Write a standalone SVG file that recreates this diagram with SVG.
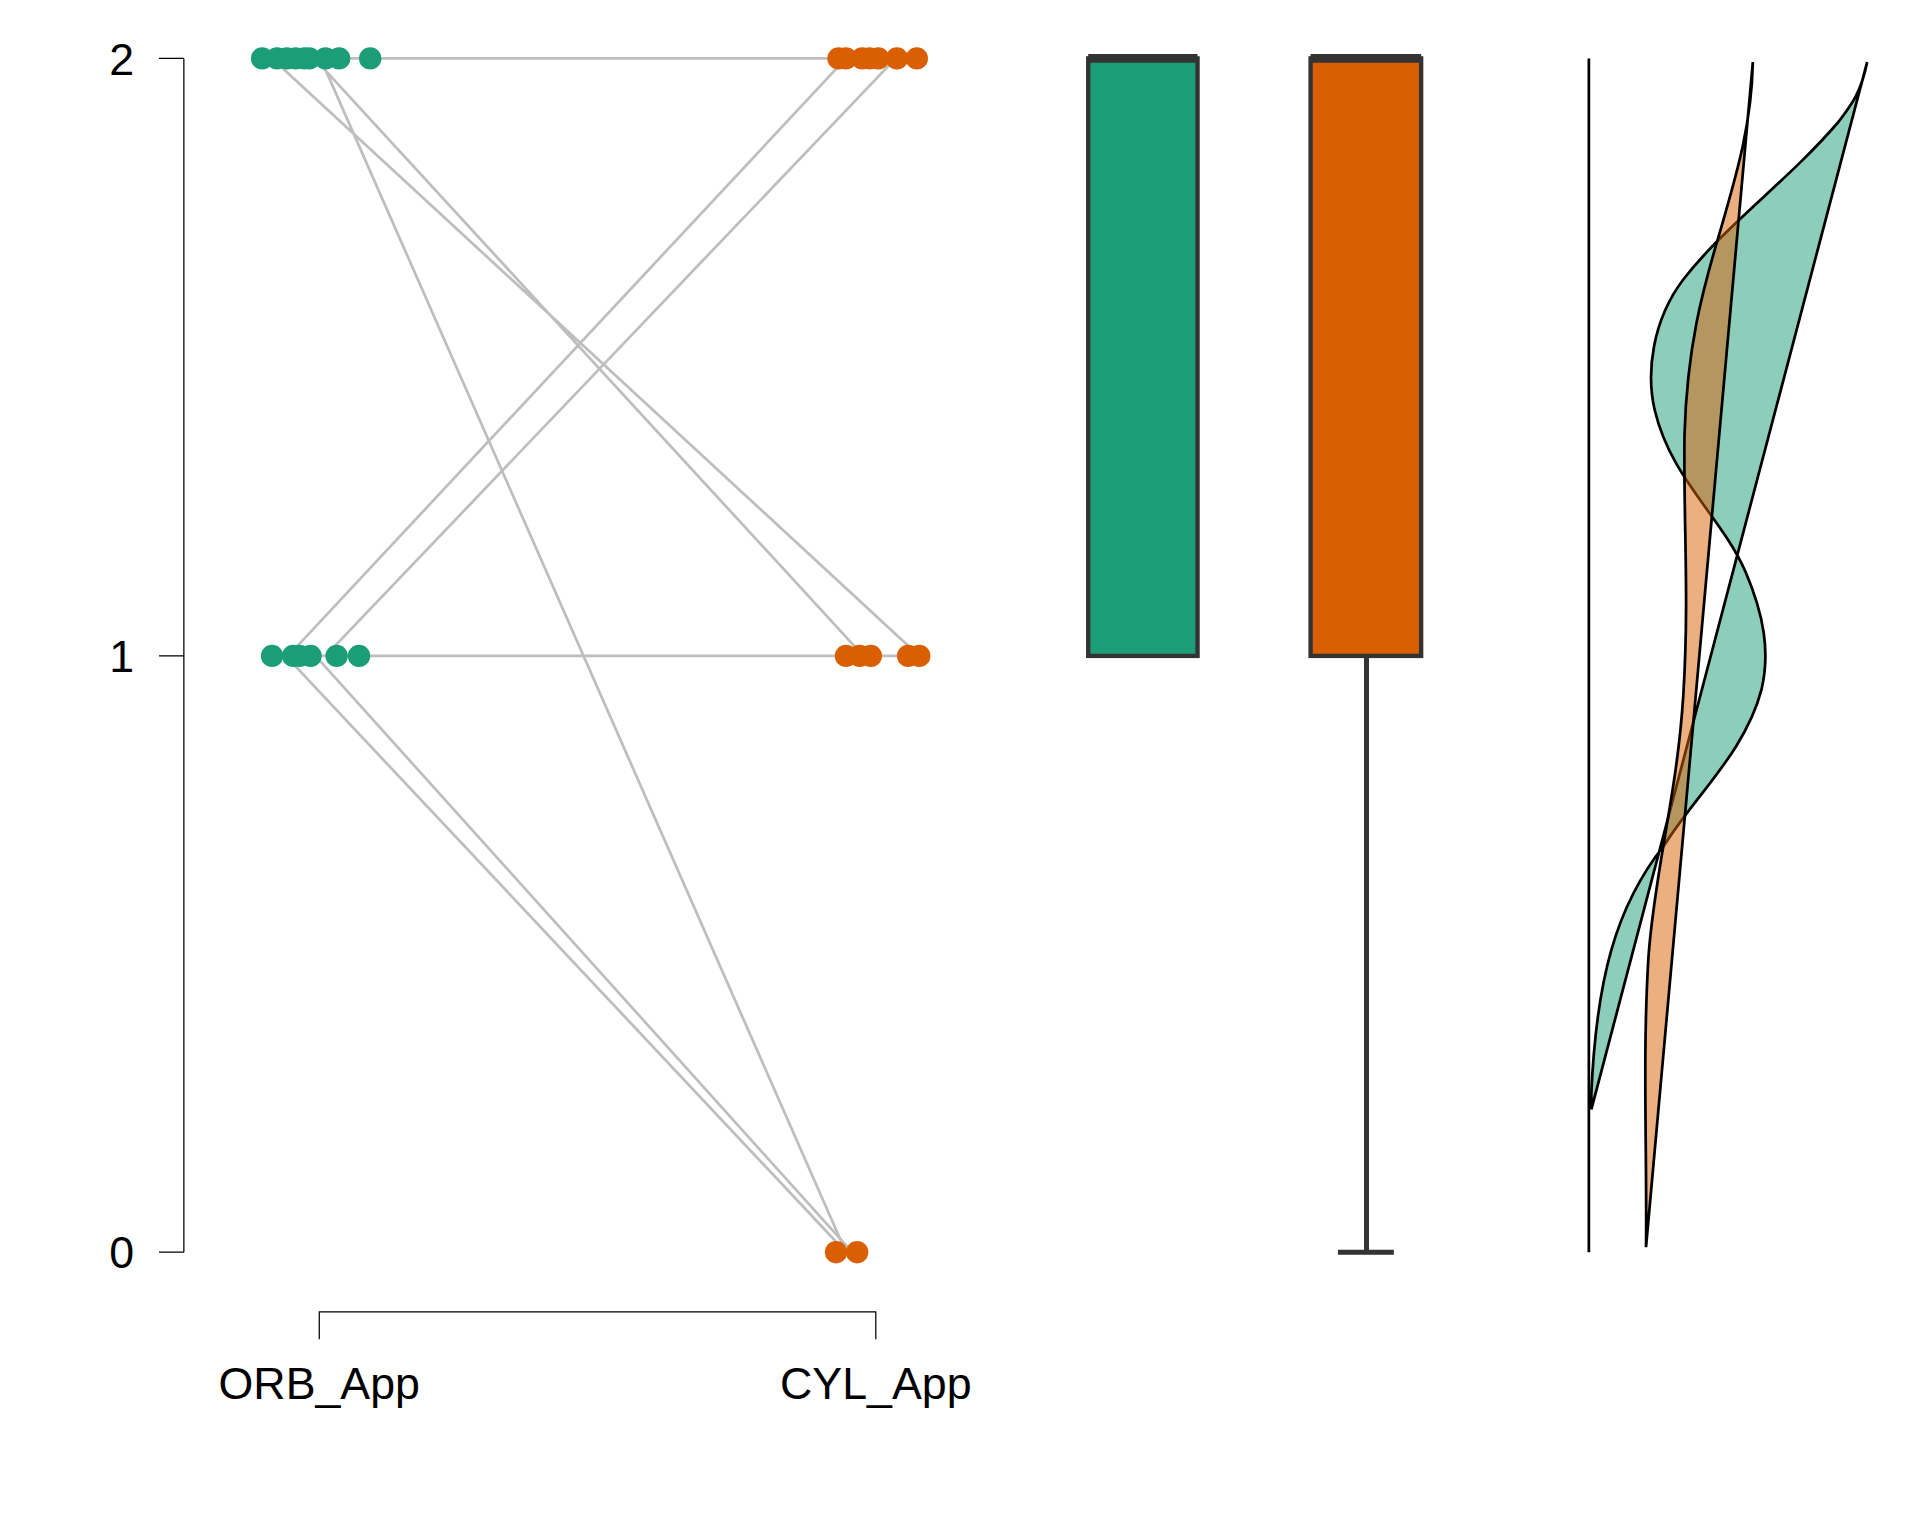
<svg xmlns="http://www.w3.org/2000/svg" width="1928" height="1515" viewBox="0 0 1928 1515">
<style>
.t{font-family:"Liberation Sans",Arial,sans-serif;font-size:36px;fill:#000}
.ln{stroke:#bebebe;stroke-width:2.2;fill:none}
.g{fill:#1b9e77}.o{fill:#d95f02}
.box{stroke:#333;stroke-width:3.5}
.ax{stroke:#000;stroke-width:1;fill:none}
</style>
<rect width="1928" height="1515" fill="#fff"/>
<g transform="scale(1.24227)">
<g id="axes">
<path class="ax" d="M148,47V1008M128,47H148M128,528H148M128,1008H148"/>
<path class="ax" d="M257,1078V1056H705V1078"/>
<text class="t" x="108" y="60" text-anchor="end">2</text>
<text class="t" x="108" y="541" text-anchor="end">1</text>
<text class="t" x="108" y="1021" text-anchor="end">0</text>
<text class="t" x="257" y="1126" text-anchor="middle">ORB_App</text>
<text class="t" x="705" y="1126" text-anchor="middle">CYL_App</text>
</g>
<g id="connectors">
<path class="ln" d="M211,47H738M219,528H740"/>
<path class="ln" d="M219,47L740,528M253,47L695,528M258,47L681,1008"/>
<path class="ln" d="M232,528L681,47M262,528L721,47"/>
<path class="ln" d="M230,528L681,1008M254,528L686,1008"/>
</g>
<g id="orb-points" class="g">
<circle cx="211" cy="47" r="9"/><circle cx="223" cy="47" r="9"/><circle cx="231" cy="47" r="9"/><circle cx="238" cy="47" r="9"/><circle cx="245" cy="47" r="9"/><circle cx="249" cy="47" r="9"/><circle cx="262" cy="47" r="9"/><circle cx="273" cy="47" r="9"/><circle cx="298" cy="47" r="9"/>
<circle cx="219" cy="528" r="9"/><circle cx="236" cy="528" r="9"/><circle cx="241" cy="528" r="9"/><circle cx="250" cy="528" r="9"/><circle cx="271" cy="528" r="9"/><circle cx="289" cy="528" r="9"/>
</g>
<g id="cyl-points" class="o">
<circle cx="675" cy="47" r="9"/><circle cx="681" cy="47" r="9"/><circle cx="694" cy="47" r="9"/><circle cx="700" cy="47" r="9"/><circle cx="707" cy="47" r="9"/><circle cx="722" cy="47" r="9"/><circle cx="738" cy="47" r="9"/>
<circle cx="681" cy="528" r="9"/><circle cx="692" cy="528" r="9"/><circle cx="701" cy="528" r="9"/><circle cx="731" cy="528" r="9"/><circle cx="740" cy="528" r="9"/>
<circle cx="673" cy="1008" r="9"/><circle cx="690" cy="1008" r="9"/>
</g>
<g id="box-orb">
<rect class="box g" x="876" y="47" width="88" height="481"/>
<path d="M876,47H964" stroke="#333" stroke-width="7"/>
</g>
<g id="box-cyl">
<rect class="box o" x="1055" y="47" width="89" height="481"/>
<path d="M1055,47H1144" stroke="#333" stroke-width="7"/>
<path d="M1100,528V1008M1077,1008H1122" stroke="#333" stroke-width="4"/>
</g>
<g id="violins" stroke="#000" stroke-width="2.2">
<path d="M1279,47V1008" fill="none"/>
<path d="M1503,50C1498,75 1490,85 1480,98C1440,145 1390,180 1355,225C1330,258 1325,300 1332,330C1345,385 1385,415 1405,460C1420,495 1425,525 1418,555C1405,605 1365,640 1340,680C1300,730 1285,790 1281,880L1281,893Z" fill="#1b9e77" fill-opacity="0.5"/>
<path d="M1411,50C1410,100 1398,140 1385,185C1370,235 1358,280 1356,350C1355,420 1360,480 1355,560C1350,640 1332,700 1327,770C1322,850 1326,930 1325,1004Z" fill="#d95f02" fill-opacity="0.5"/>
</g>
</g>
</svg>
